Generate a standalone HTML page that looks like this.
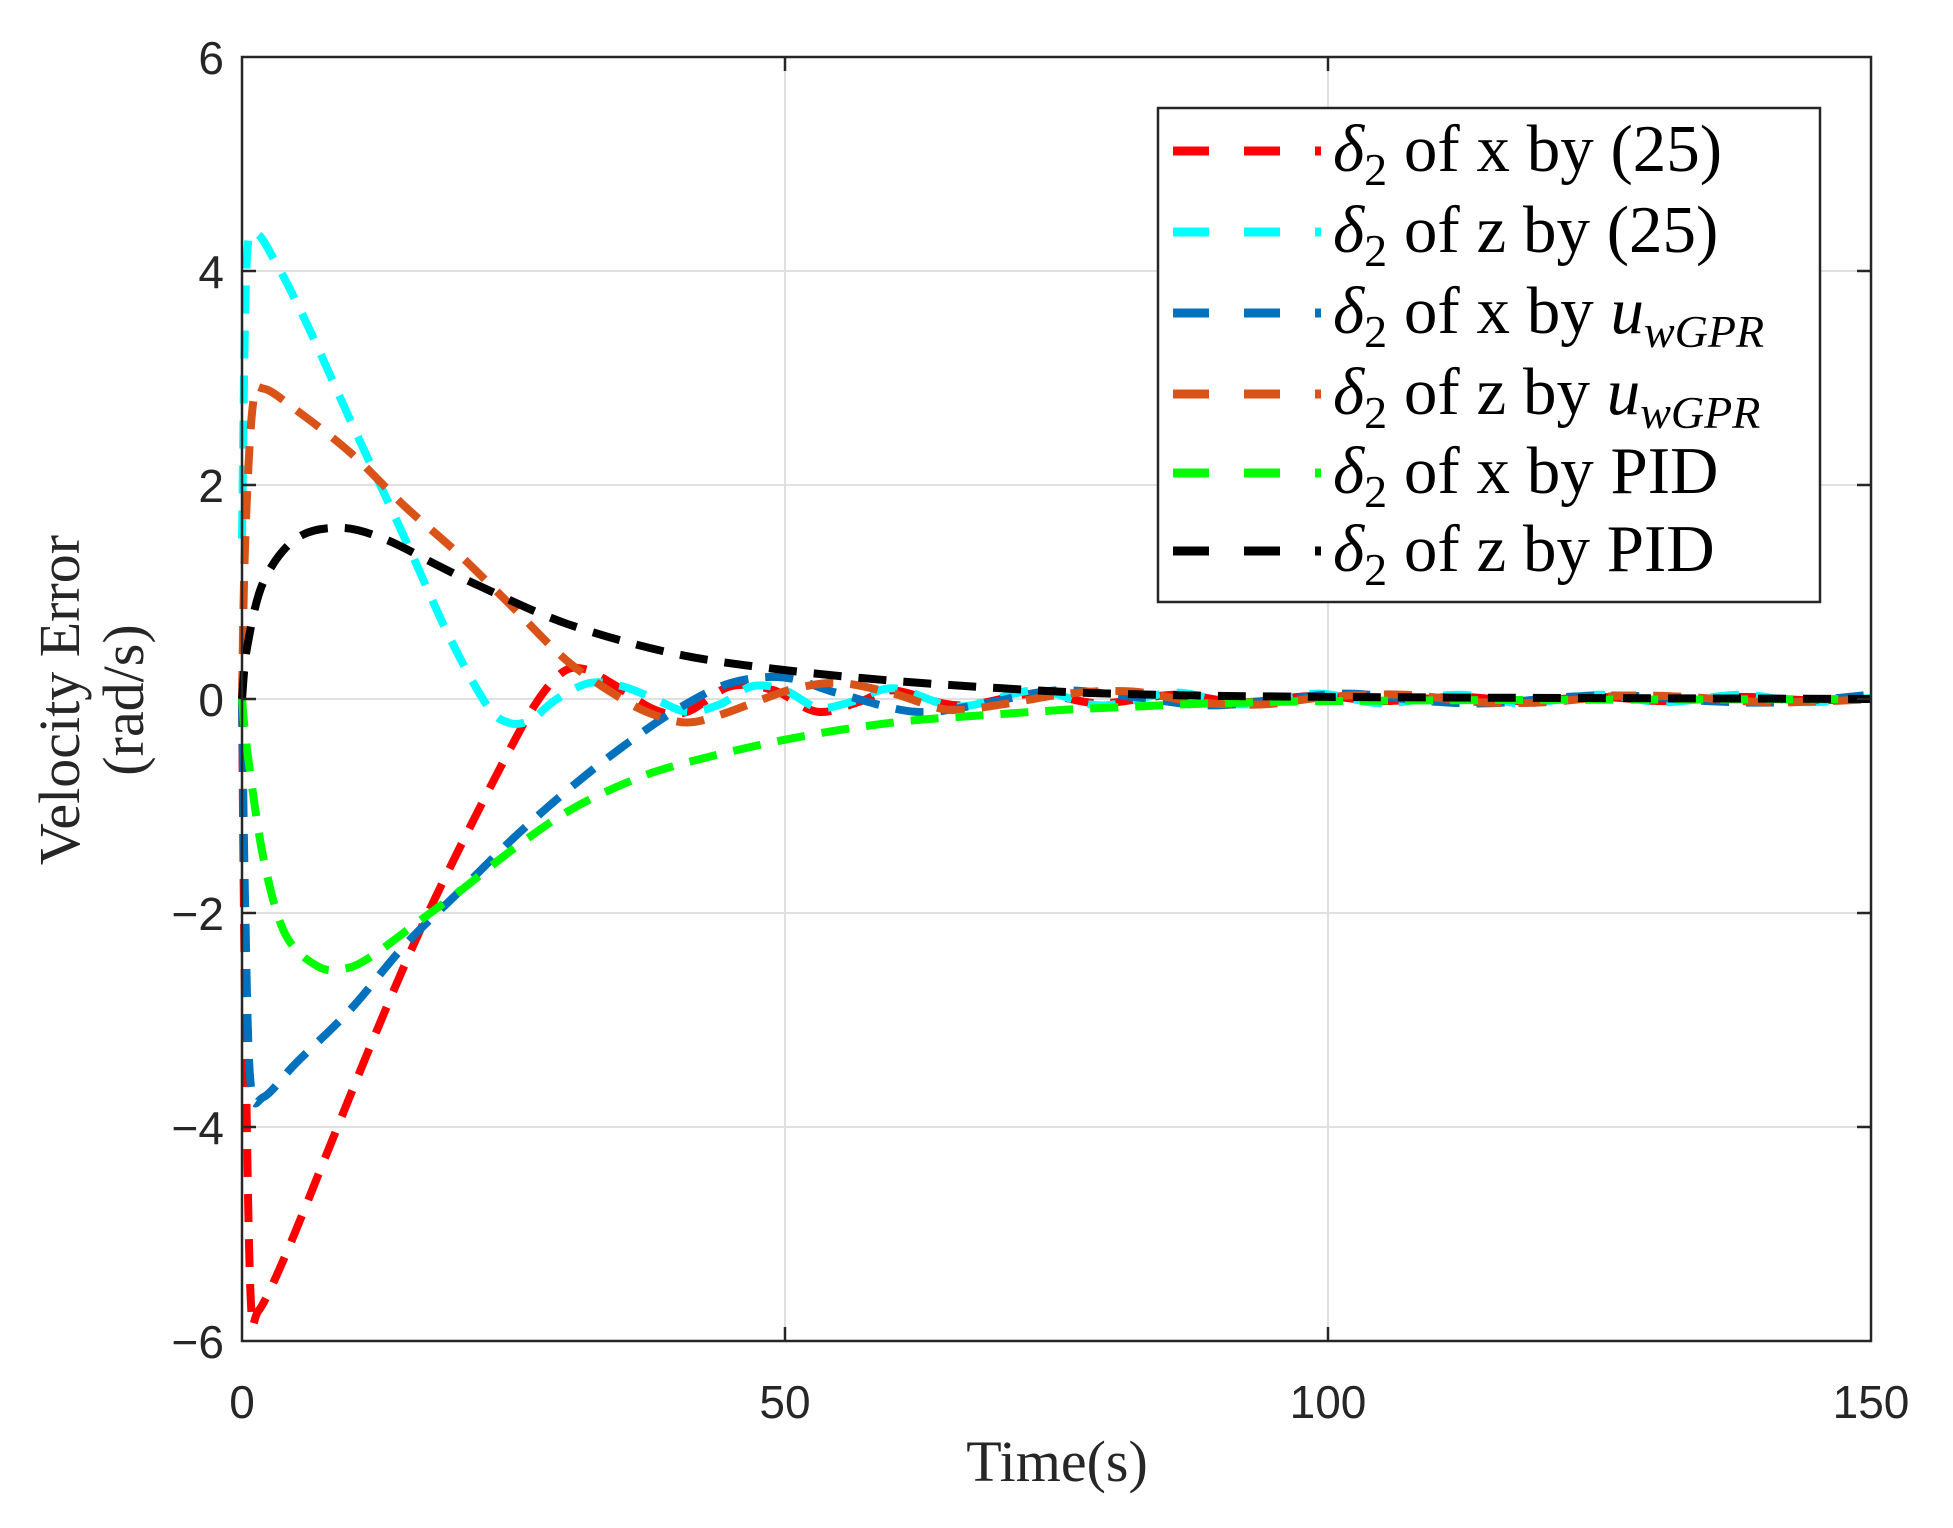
<!DOCTYPE html>
<html><head><meta charset="utf-8"><style>
html,body{margin:0;padding:0;background:#fff;}
svg{display:block;}
.tk{font-family:"Liberation Sans",sans-serif;font-size:46px;fill:#262626;}
.lg{font-family:"Liberation Serif",serif;font-size:67px;fill:#000;}
.al{font-family:"Liberation Serif",serif;font-size:58px;fill:#262626;}
</style></head><body>
<svg id="s" width="1953" height="1528" xmlns="http://www.w3.org/2000/svg">
<rect width="1953" height="1528" fill="#fff"/>
<g stroke="#e0e0e0" stroke-width="2">
<line x1="785" y1="57" x2="785" y2="1341"/><line x1="1328" y1="57" x2="1328" y2="1341"/>
<line x1="242" y1="271" x2="1871" y2="271"/><line x1="242" y1="485" x2="1871" y2="485"/>
<line x1="242" y1="699" x2="1871" y2="699"/><line x1="242" y1="913" x2="1871" y2="913"/>
<line x1="242" y1="1127" x2="1871" y2="1127"/>
</g>
<g id="curves" fill="none" stroke-width="8" stroke-dasharray="28 17"></g>
<g stroke="#262626" stroke-width="2.5" fill="none">
<rect x="242" y="57" width="1629" height="1284"/>
<path d="M785 1341v-14M1328 1341v-14M785 57v14M1328 57v14M242 271h14M242 485h14M242 699h14M242 913h14M242 1127h14M1871 271h-14M1871 485h-14M1871 699h-14M1871 913h-14M1871 1127h-14"/>
</g>
<g class="tk" text-anchor="end">
<text x="224" y="74">6</text><text x="224" y="288">4</text><text x="224" y="502">2</text>
<text x="224" y="716">0</text><text x="224" y="930">−2</text><text x="224" y="1144">−4</text><text x="224" y="1358">−6</text>
</g>
<g class="tk" text-anchor="middle">
<text x="242" y="1418">0</text><text x="785" y="1418">50</text><text x="1328" y="1418">100</text><text x="1871" y="1418">150</text>
</g>
<text class="al" x="1057" y="1481" text-anchor="middle">Time(s)</text>
<g transform="translate(79,700) rotate(-90)"><text class="al" text-anchor="middle">Velocity Error</text></g>
<g transform="translate(143,700) rotate(-90)"><text class="al" text-anchor="middle">(rad/s)</text></g>
<rect x="1158" y="108" width="662" height="494" fill="#fff" stroke="#262626" stroke-width="2.5"/>
<g id="leg"></g>
</svg>
<script>
const X=t=>242+t*10.86, Y=v=>699-v*107;
const S=[
["#ff0000",[[0,0],[0.3,-3],[0.8,-5.6],[1.5,-5.72],[4,-5.2],[8,-4.2],[12,-3.2],[16,-2.25],[20,-1.4],[24,-0.6],[27,-0.05],[29.5,0.25],[31.5,0.28],[34,0.15],[38,-0.1],[41,-0.12],[45,0.12],[49,0.08],[53,-0.12],[57,-0.02],[60,0.08],[66,-0.06],[73,0.05],[79,-0.04],[86,0.04],[92,-0.03],[99,0.03],[105,-0.02],[112,0.02],[118,-0.02],[125,0.02],[131,-0.02],[138,0.02],[144,-0.01],[150,0]]],
["#00ffff",[[0,1.5],[0.4,4.0],[1.2,4.35],[3,4.1],[6,3.5],[10,2.6],[15,1.5],[19,0.6],[22.5,-0.05],[24.5,-0.22],[26.5,-0.2],[29,0],[32,0.15],[35,0.12],[38,0],[41,-0.12],[44,-0.05],[47,0.12],[50,0.08],[53,-0.08],[56,-0.03],[60,0.1],[66,-0.07],[73,0.08],[79,-0.06],[86,0.06],[92,-0.05],[99,0.05],[105,-0.04],[112,0.04],[118,-0.04],[125,0.04],[131,-0.03],[138,0.04],[144,-0.03],[150,0.01]]],
["#0072bd",[[0,0],[0.3,-2],[0.8,-3.6],[2,-3.72],[5,-3.4],[10,-2.9],[15,-2.3],[20,-1.8],[25,-1.3],[30,-0.85],[35,-0.45],[40,-0.1],[45,0.15],[50,0.2],[55,0.05],[62,-0.12],[68,-0.05],[75,0.08],[82,0.02],[89,-0.06],[96,0],[102,0.05],[109,-0.02],[115,-0.04],[122,0.02],[128,0.03],[135,-0.02],[142,-0.03],[150,0.04]]],
["#d95319",[[0,0],[0.3,1.5],[1,2.75],[2,2.9],[5,2.7],[10,2.3],[15,1.8],[20,1.35],[25,0.85],[30,0.35],[35,0],[38,-0.15],[41,-0.22],[44,-0.15],[48,0],[51,0.1],[55,0.15],[60,0.05],[65,-0.1],[70,-0.05],[76,0.05],[82,0.07],[88,-0.03],[94,-0.05],[100,0.02],[107,0.04],[114,-0.03],[120,-0.03],[127,0.03],[133,0.02],[140,-0.03],[146,-0.02],[150,0]]],
["#00ff00",[[0,0],[0.5,-0.5],[2,-1.5],[4,-2.2],[7,-2.5],[9.5,-2.52],[12,-2.4],[16,-2.1],[20,-1.8],[25,-1.4],[30,-1.05],[35,-0.8],[40,-0.62],[50,-0.38],[60,-0.22],[70,-0.14],[80,-0.08],[100,-0.02],[150,0]]],
["#000000",[[0,0],[0.5,0.5],[2,1.1],[5,1.5],[9,1.6],[13,1.5],[18,1.25],[22,1.05],[30,0.7],[40,0.42],[50,0.27],[60,0.17],[70,0.1],[80,0.05],[100,0.02],[150,0]]]
];
function path(p){let d=`M${X(p[0][0])} ${Y(p[0][1])}`;
for(let i=0;i<p.length-1;i++){const a=p[Math.max(i-1,0)],b=p[i],c=p[i+1],e=p[Math.min(i+2,p.length-1)];
const c1=[X(b[0])+(X(c[0])-X(a[0]))/6,Y(b[1])+(Y(c[1])-Y(a[1]))/6],c2=[X(c[0])-(X(e[0])-X(b[0]))/6,Y(c[1])-(Y(e[1])-Y(b[1]))/6];
d+=`C${c1[0].toFixed(1)} ${c1[1].toFixed(1)} ${c2[0].toFixed(1)} ${c2[1].toFixed(1)} ${X(c[0]).toFixed(1)} ${Y(c[1]).toFixed(1)}`;}return d;}
const NS="http://www.w3.org/2000/svg",g=document.getElementById("curves"),L=document.getElementById("leg");
const labels=[["of x by (25)",""],["of z by (25)",""],["of x by ",1],["of z by ",1],["of x by PID",""],["of z by PID",""]];
const ys=[151,232,313,394,473,551];
S.forEach((s,i)=>{const p=document.createElementNS(NS,"path");p.setAttribute("d",path(s[1]));p.setAttribute("stroke",s[0]);g.appendChild(p);
const y=ys[i];
L.innerHTML+=`<path d="M1173 ${y}H1321" stroke="${s[0]}" stroke-width="9" stroke-dasharray="36 35"/>`+
`<text class="lg" x="1333" y="${y+20}"><tspan font-style="italic">δ</tspan><tspan font-size="46" dy="14">2</tspan><tspan dy="-14"> ${labels[i][0]}</tspan>`+
(labels[i][1]?`<tspan font-style="italic">u</tspan><tspan font-style="italic" font-size="46" dy="14">wGPR</tspan>`:``)+`</text>`;});
</script>
</body></html>
